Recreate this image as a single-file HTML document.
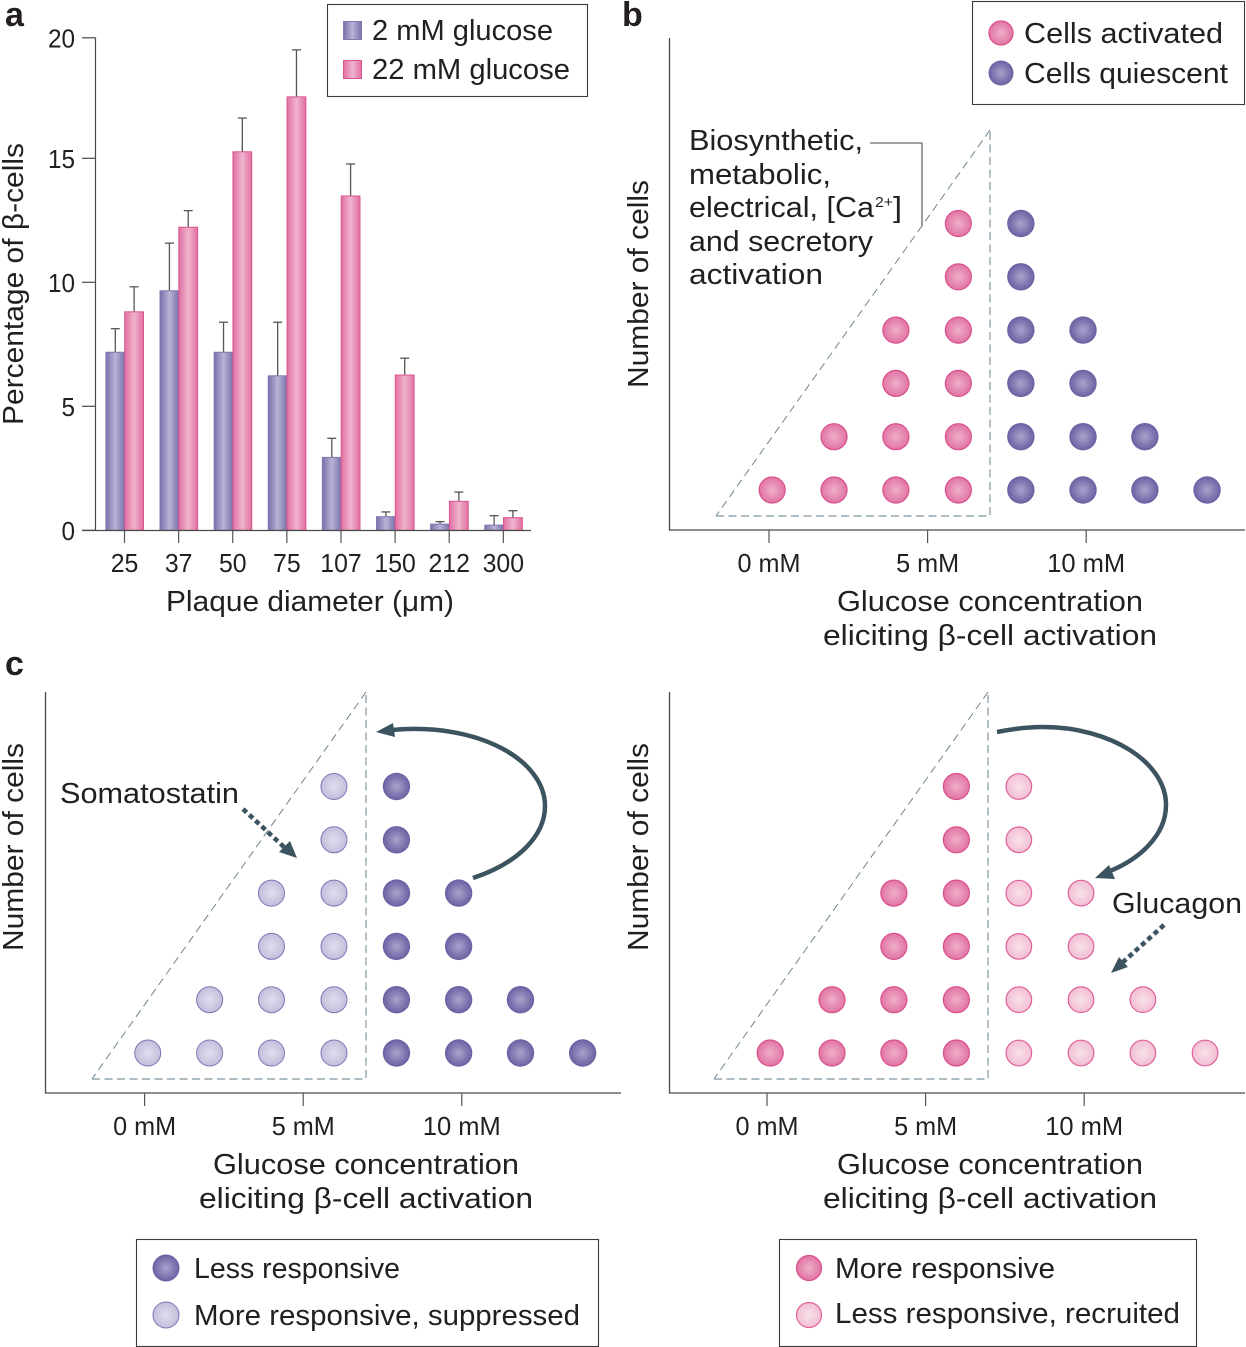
<!DOCTYPE html>
<html lang="en">
<head>
<meta charset="utf-8">
<title>Beta-cell activation charts</title>
<style>
html,body{margin:0;padding:0;background:#fff;width:1246px;height:1347px;overflow:hidden}
svg{display:block}
text{font-family:"Liberation Sans",sans-serif;fill:#231f20;font-size:29px}
.tick{font-size:26px}
.bold{font-weight:bold;font-size:34px}
</style>
</head>
<body>
<svg id="figure" xmlns="http://www.w3.org/2000/svg" width="1246" height="1347" viewBox="0 0 1246 1347">
<defs>
<linearGradient id="barBlue"><stop offset="0" stop-color="#7a70ab"/><stop offset=".5" stop-color="#b9b4d6"/><stop offset="1" stop-color="#7a70ab"/></linearGradient>
<linearGradient id="barPink"><stop offset="0" stop-color="#e26fa2"/><stop offset=".5" stop-color="#efb4cd"/><stop offset="1" stop-color="#e26fa2"/></linearGradient>
<radialGradient id="dotPink"><stop offset="0" stop-color="#eeafc9"/><stop offset="1" stop-color="#e174a3"/></radialGradient>
<radialGradient id="dotPurple"><stop offset="0" stop-color="#a9a3cc"/><stop offset="1" stop-color="#6c5ea2"/></radialGradient>
<radialGradient id="dotLightPurple"><stop offset="0" stop-color="#e0deed"/><stop offset="1" stop-color="#c2bedc"/></radialGradient>
<radialGradient id="dotLightPink"><stop offset="0" stop-color="#f8e2eb"/><stop offset="1" stop-color="#f2bed3"/></radialGradient>
</defs>

<text class="bold" x="5" y="26">a</text>
<text class="bold" x="622" y="26">b</text>
<text class="bold" x="5" y="675">c</text>

<g id="barChart"></g>
<text transform="translate(23,425) rotate(-90)" textLength="282" lengthAdjust="spacingAndGlyphs">Percentage of β-cells</text>
<text x="166" y="611" textLength="288" lengthAdjust="spacingAndGlyphs">Plaque diameter (μm)</text>

<g>
<rect x="327.5" y="4.5" width="260" height="92" fill="#fff" stroke="#3a3a3a" stroke-width="1.1"/>
<rect x="343.5" y="21.5" width="18" height="18" fill="url(#barBlue)" stroke="#8278b2"/>
<rect x="343.5" y="60.5" width="18" height="18" fill="url(#barPink)" stroke="#d9558f"/>
<text x="372" y="40" textLength="181" lengthAdjust="spacingAndGlyphs">2 mM glucose</text>
<text x="372" y="79" textLength="198" lengthAdjust="spacingAndGlyphs">22 mM glucose</text>
</g>

<g id="panelB"></g>
<g id="panelCL"></g>
<g id="panelCR"></g>

<g>
<rect x="972.5" y="1.5" width="272" height="103" fill="#fff" stroke="#3a3a3a" stroke-width="1.1"/>
<circle cx="1001" cy="33" r="12" fill="url(#dotPink)" stroke="#d94f8d" stroke-width="1.2"/>
<circle cx="1001" cy="73" r="12.5" fill="url(#dotPurple)"/>
<text x="1024" y="43" textLength="199" lengthAdjust="spacingAndGlyphs">Cells activated</text>
<text x="1024" y="83" textLength="204" lengthAdjust="spacingAndGlyphs">Cells quiescent</text>
</g>

<g>
<text x="689" y="150" textLength="174" lengthAdjust="spacingAndGlyphs">Biosynthetic,</text>
<text x="689" y="184" textLength="142" lengthAdjust="spacingAndGlyphs">metabolic,</text>
<text x="689" y="217" textLength="185" lengthAdjust="spacingAndGlyphs">electrical, [Ca</text>
<text x="875" y="207" style="font-size:15px" textLength="18" lengthAdjust="spacingAndGlyphs">2+</text>
<text x="893" y="217" textLength="9" lengthAdjust="spacingAndGlyphs">]</text>
<text x="689" y="251" textLength="184" lengthAdjust="spacingAndGlyphs">and secretory</text>
<text x="689" y="284" textLength="134" lengthAdjust="spacingAndGlyphs">activation</text>
<path d="M870,143H922V226" fill="none" stroke="#4a4a4a" stroke-width="1.1"/>
</g>

<g>
<text x="60" y="803" textLength="179" lengthAdjust="spacingAndGlyphs">Somatostatin</text>
<path d="M243,809L284,847" fill="none" stroke="#3c5460" stroke-width="4.6" stroke-dasharray="5 3.5"/>
<path d="M297,858L290,841L279,852Z" fill="#3c5460"/>
<path d="M473,878C518,863 545,836 545,806C545,760 478,722 392,730" fill="none" stroke="#3c5460" stroke-width="4.5"/>
<path d="M376,732L393,723L395,737Z" fill="#3c5460"/>
</g>

<g>
<text x="1112" y="913" textLength="130" lengthAdjust="spacingAndGlyphs">Glucagon</text>
<path d="M1164,925L1122,963" fill="none" stroke="#3c5460" stroke-width="4.6" stroke-dasharray="5 3.5"/>
<path d="M1111,973L1119,957L1128,967Z" fill="#3c5460"/>
<path d="M997,732C1012,729 1028,727 1043,727C1110,727 1166,762 1166,805C1166,835 1140,860 1105,873" fill="none" stroke="#3c5460" stroke-width="4.5"/>
<path d="M1095,878L1109,865L1115,879Z" fill="#3c5460"/>
</g>

<g>
<rect x="136.5" y="1239.5" width="462" height="107" fill="#fff" stroke="#3a3a3a" stroke-width="1.1"/>
<circle cx="166" cy="1268" r="13.5" fill="url(#dotPurple)"/>
<circle cx="166" cy="1315" r="13" fill="url(#dotLightPurple)" stroke="#8074b4" stroke-width="1"/>
<text x="194" y="1278" textLength="206" lengthAdjust="spacingAndGlyphs">Less responsive</text>
<text x="194" y="1325" textLength="386" lengthAdjust="spacingAndGlyphs">More responsive, suppressed</text>
</g>

<g>
<rect x="779.5" y="1239.5" width="417" height="107" fill="#fff" stroke="#3a3a3a" stroke-width="1.1"/>
<circle cx="809" cy="1268" r="12.5" fill="url(#dotPink)" stroke="#d94f8d" stroke-width="1.2"/>
<circle cx="809" cy="1315" r="12.5" fill="url(#dotLightPink)" stroke="#e0609a" stroke-width="1.2"/>
<text x="835" y="1278" textLength="220" lengthAdjust="spacingAndGlyphs">More responsive</text>
<text x="835" y="1323" textLength="345" lengthAdjust="spacingAndGlyphs">Less responsive, recruited</text>
</g>
</svg>

<script>
// Panel a data
const diameters = ['25', '37', '50', '75', '107', '150', '212', '300'];
const yTickValues = [0, 5, 10, 15, 20];
const lowGlucose = [7.18, 9.66, 7.18, 6.23, 2.94, 0.55, 0.25, 0.21];
const lowGlucoseErrorTop = [8.13, 11.58, 8.39, 8.39, 3.71, 0.74, 0.35, 0.59];
const highGlucose = [8.81, 12.22, 15.27, 17.55, 13.48, 6.26, 1.17, 0.51];
const highGlucoseErrorTop = [9.82, 12.89, 16.67, 19.5, 14.77, 6.94, 1.54, 0.79];

// Panels b and c data
const glucoseLevels = [0.1, 2.05, 4, 5.97, 7.94, 9.9, 11.85, 13.81];
const cellCounts = [1, 2, 4, 6, 6, 4, 2, 1];
const glucoseTicks = [0, 5, 10];
const activationThreshold = 7;

const NS = 'http://www.w3.org/2000/svg';
function make(parent, tag, attrs, content) {
  const el = document.createElementNS(NS, tag);
  for (const k in attrs) el.setAttribute(k, attrs[k]);
  if (content !== undefined) el.textContent = content;
  parent.appendChild(el);
  return el;
}

// ---- Bar chart ----
const barY = v => v <= 15 ? 530.3 - v * 24.8 : 158.3 - (v - 15) * 24.1;
const groupX = i => 124.5 + i * 54.12;
const barWidth = 18.8;
const barRoot = document.getElementById('barChart');
let el;

yTickValues.forEach(v => {
  el = make(barRoot, 'line', {x1: 82, x2: 95.5, y1: barY(v), y2: barY(v), stroke: '#4a4a4a', 'stroke-width': 1.2});
  
  
  const s = String(v);
  el = make(barRoot, 'text', {class: 'tick', x: 75, y: barY(v) + 9.5, 'text-anchor': 'end', textLength: s.length * 13.5, lengthAdjust: 'spacingAndGlyphs'}, s);
  
  
});

function drawBar(i, value, top, fill, stroke, offset, name) {
  const x = groupX(i) + offset;
  const cx = x + barWidth / 2;
  el = make(barRoot, 'line', {x1: cx, x2: cx, y1: barY(top), y2: barY(value), stroke: '#555', 'stroke-width': 1.3});
  
  
  el = make(barRoot, 'line', {x1: cx - 4.5, x2: cx + 4.5, y1: barY(top), y2: barY(top), stroke: '#555', 'stroke-width': 1.3});
  
  
  el = make(barRoot, 'rect', {x: x, y: barY(value), width: barWidth, height: barY(0) - barY(value), fill: fill, stroke: stroke, 'stroke-width': 1});
  
  
}

diameters.forEach((d, i) => {
  drawBar(i, lowGlucose[i], lowGlucoseErrorTop[i], 'url(#barBlue)', '#8278b2', -barWidth + 0.2, 'bar-2mm-' + d);
  drawBar(i, highGlucose[i], highGlucoseErrorTop[i], 'url(#barPink)', '#d9558f', 0.2, 'bar-22mm-' + d);
  el = make(barRoot, 'line', {x1: groupX(i), x2: groupX(i), y1: 530, y2: 543, stroke: '#555', 'stroke-width': 1.2});
  
  
  el = make(barRoot, 'text', {class: 'tick', x: groupX(i), y: 572, 'text-anchor': 'middle', textLength: d.length * 13.8, lengthAdjust: 'spacingAndGlyphs'}, d);
  
  
});

el = make(barRoot, 'line', {x1: 95.5, x2: 95.5, y1: 37.5, y2: 530.5, stroke: '#4a4a4a', 'stroke-width': 1.2});


el = make(barRoot, 'line', {x1: 82, x2: 531, y1: 530.5, y2: 530.5, stroke: '#4a4a4a', 'stroke-width': 1.3});



// ---- Dot plots ----
const dotStyles = {
  pink: {fill: 'url(#dotPink)', stroke: '#d94f8d', width: 1.2, r: 13},
  purple: {fill: 'url(#dotPurple)', stroke: 'none', width: 0, r: 13.7},
  lightPurple: {fill: 'url(#dotLightPurple)', stroke: '#8074b4', width: 1, r: 13},
  lightPink: {fill: 'url(#dotLightPink)', stroke: '#e0609a', width: 1.2, r: 12.8}
};

function drawPanel(root, o) {
  const xScale = g => o.zeroX + g * 31.72;
  const rowY = n => o.axisY - 40 - n * 53.3;

  o.triangleSides.forEach((side, k) => {
    el = make(root, 'path', {d: side, fill: 'none', stroke: k === 0 ? '#6f858f' : '#93a7af', 'stroke-width': k === 0 ? 1 : 1.4, 'stroke-dasharray': k === 0 ? '8 5' : '8 4.5'});
    
    
  });

  el = make(root, 'path', {d: 'M' + (o.axisLeft + 0.5) + ',' + o.axisTop + 'V' + o.axisY + 'H' + o.axisRight, fill: 'none', stroke: '#4a4a4a', 'stroke-width': 1.3});
  
  

  glucoseTicks.forEach(t => {
    const label = t + ' mM';
    el = make(root, 'line', {x1: xScale(t), x2: xScale(t), y1: o.axisY, y2: o.axisY + 13, stroke: '#555', 'stroke-width': 1.2});
    
    
    el = make(root, 'text', {class: 'tick', x: xScale(t), y: o.axisY + 42, 'text-anchor': 'middle', textLength: t === 10 ? 78 : 63, lengthAdjust: 'spacingAndGlyphs'}, label);
    
    
  });

  glucoseLevels.forEach((g, c) => {
    for (let n = 0; n < cellCounts[c]; n++) {
      const st = g < activationThreshold ? dotStyles[o.lowStyle] : dotStyles[o.highStyle];
      el = make(root, 'circle', {cx: xScale(g), cy: rowY(n), r: st.r, fill: st.fill, stroke: st.stroke, 'stroke-width': st.width});
      
      
    }
  });

  el = make(root, 'text', {transform: 'translate(' + o.yTitleX + ',' + (o.yTitleCenter + 104) + ') rotate(-90)', textLength: 208, lengthAdjust: 'spacingAndGlyphs'}, 'Number of cells');
  
  
  el = make(root, 'text', {x: o.titleX + 14, y: o.axisY + 81, textLength: 306, lengthAdjust: 'spacingAndGlyphs'}, 'Glucose concentration');
  
  
  el = make(root, 'text', {x: o.titleX, y: o.axisY + 115, textLength: 334, lengthAdjust: 'spacingAndGlyphs'}, 'eliciting β-cell activation');
  
  
}

drawPanel(document.getElementById('panelB'), {
  zeroX: 769, axisY: 530, axisTop: 38, axisLeft: 669, axisRight: 1245, lowStyle: 'pink', highStyle: 'purple',
  triangleSides: ['M990,130L716,516', 'M716,516H990V130'],
  yTitleX: 648, yTitleCenter: 284, titleX: 823
});
drawPanel(document.getElementById('panelCL'), {
  zeroX: 144.6, axisY: 1093, axisTop: 692, axisLeft: 45, axisRight: 621, lowStyle: 'lightPurple', highStyle: 'purple',
  triangleSides: ['M366,692L92,1079', 'M92,1079H366V692'],
  yTitleX: 23, yTitleCenter: 847, titleX: 199
});
drawPanel(document.getElementById('panelCR'), {
  zeroX: 767, axisY: 1093, axisTop: 692, axisLeft: 669, axisRight: 1245, lowStyle: 'pink', highStyle: 'lightPink',
  triangleSides: ['M988,692L714,1079', 'M714,1079H988V692'],
  yTitleX: 648, yTitleCenter: 847, titleX: 823
});
</script>
</body>
</html>
